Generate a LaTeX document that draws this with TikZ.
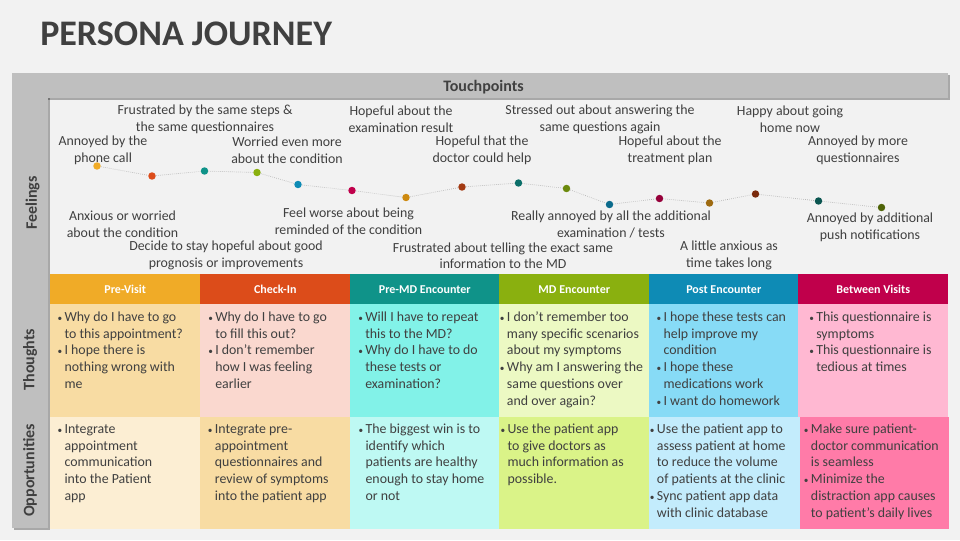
\documentclass[tikz,border=0pt]{standalone}
\usepackage{fontspec}
\setmainfont{Carlito}
\usetikzlibrary{positioning, shadows}
\definecolor{pagebg}{HTML}{F2F2F2}
\definecolor{bandgray}{HTML}{BFBFBF}
\definecolor{inktext}{HTML}{404040}
\newcommand{\cellitem}[1]{\par\begingroup\def\\{\break}\hangindent=5.25pt\hangafter=1\noindent\makebox[5.25pt][l]{\scriptsize\textbullet}#1\par\endgroup}
\newcommand{\bodyfont}{\fontsize{10.4}{12.6}\selectfont}
\newcommand{\standardpx}{0.75pt}

\tikzset{
    band/.style={fill=bandgray, draw=none, drop shadow={shadow xshift=1.2pt, shadow yshift=-1.2pt, opacity=0.3, fill=black}},
    bandlabel/.style={text=inktext, font=\bfseries\fontsize{12}{14}\selectfont, inner sep=0pt},
    feeling/.style={text=inktext, font=\bodyfont, align=center, inner sep=0pt},
    dot/.style={circle, fill=#1, minimum size=5.6pt, inner sep=0pt},
    header/.style={fill=#1, text=white, font=\bfseries\fontsize{9}{11}\selectfont, minimum height=30*\standardpx, inner sep=0pt, anchor=north west},
    cellbox/.style={fill=#1, inner sep=0pt, anchor=north west},
    celltext/.style={text=inktext, font=\bodyfont, align=flush left, text width=155*\standardpx, inner sep=0pt, anchor=north west},
    chain/.style={densely dotted, line width=0.5pt, draw=gray!60}
}

\begin{document}
\begin{tikzpicture}[x=0.75pt, y=-0.75pt]
    \useasboundingbox (0,0) rectangle (960,540);
    \fill[pagebg] (0,0) rectangle (960,540);

    \node[text=inktext, font=\bfseries\fontsize{27}{32}\selectfont, inner sep=0pt, anchor=west] (title) at (40,34) {PERSONA JOURNEY};

    % grey bands
    \node[band, minimum width=36*\standardpx, minimum height=455*\standardpx, inner sep=0pt, anchor=north west] (leftband) at (12,73) {};
    \node[band, minimum width=936*\standardpx, minimum height=25*\standardpx, inner sep=0pt, anchor=north west] (topband) at (12,73) {};
    \fill[bandgray] (14,80) rectangle (48,100);
    \node[bandlabel] (touchpoints) at (483.5,87) {Touchpoints};
    \node[bandlabel, rotate=90] (feelings) at (32.5,203) {Feelings};
    \node[bandlabel, rotate=90] (thoughts) at (30,359.5) {Thoughts};
    \node[bandlabel, rotate=90] (opportunities) at (30,470.5) {Opportunities};

    % feelings above the line
    \node[feeling] (annoyed) at (103,150.2) {Annoyed by the\\phone call};
    \node[feeling] (frustrated) at (205,119.2) {Frustrated by the same steps \&\\the same questionnaires};
    \node[feeling] (worried) at (287,150.2) {Worried even more\\about the condition};
    \node[feeling] (hopefulexam) at (401,119.2) {Hopeful about the\\examination result};
    \node[feeling] (hopefuldoctor) at (482,150.2) {Hopeful that the\\doctor could help};
    \node[feeling] (stressed) at (600,119.2) {Stressed out about answering the\\same questions again};
    \node[feeling] (hopefulplan) at (670,150.2) {Hopeful about the\\treatment plan};
    \node[feeling] (happy) at (790,119.2) {Happy about going\\home now};
    \node[feeling] (annoyedmore) at (858,150.2) {Annoyed by more\\questionnaires};

    % feelings below the line
    \node[feeling] (anxious) at (122.5,224.5) {Anxious or worried\\about the condition};
    \node[feeling] (decide) at (226,255.7) {Decide to stay hopeful about good\\prognosis or improvements};
    \node[feeling] (worse) at (348.5,221.5) {Feel worse about being\\reminded of the condition};
    \node[feeling] (telling) at (503,255.7) {Frustrated about telling the exact same\\information to the MD};
    \node[feeling] (really) at (611,224.5) {Really annoyed by all the additional\\examination / tests};
    \node[feeling] (little) at (729,255.7) {A little anxious as\\time takes long};
    \node[feeling] (push) at (870,226.9) {Annoyed by additional\\push notifications};

    % feeling line
    \foreach \i/\x/\y/\colr in {1/97/166/F0AB27, 2/152/176/DC4C1A, 3/204.5/171/0F9389, 4/257/172.5/8AB00F,
        5/298/184.5/0E8BB5, 6/352/190.5/C0004B, 7/406/197.5/CE8A10, 8/462/187/A33A12,
        9/518.5/183/0B6F69, 10/566.5/188.5/6C8A0C, 11/609.5/204.5/0B6B8C, 12/659.5/198.5/96003A,
        13/709.5/203/9E6A10, 14/755.5/194/7A2A0C, 15/818.5/201/0A5550, 16/881.5/207.5/4F6408} {
        \definecolor{dotcolor}{HTML}{\colr}
        \node[dot=dotcolor] (p\i) at (\x,\y) {};
    }
    \foreach \i [remember=\i as \j (initially 1)] in {2,...,16} {
        \draw[chain] (p\j) -- (p\i);
    }

    % headers
    \foreach \name/\x/\colw/\colr/\headtext in {previsit/50/150/F0AB27/Pre-Visit, checkin/200/150/DC4C1A/Check-In,
        premd/350/149/0F9389/Pre-MD Encounter, md/499/150/8AB00F/MD Encounter,
        post/649/149/0E8BB5/Post Encounter, between/798/150/C0004B/Between Visits} {
        \definecolor{headcolor}{HTML}{\colr}
        \node[header=headcolor, minimum width=\colw*\standardpx] (\name) at (\x,274) {\headtext};
    }

    % thoughts row
    \foreach \name/\x/\colw/\colr in {tone/50/150/F8DCA3, ttwo/200/150/FAD8CF, tthree/350/149/82F2E8,
        tfour/499/150/ECF9C3, tfive/649/149/87DBF6, tsix/798/150/FFB8D2} {
        \definecolor{cellcolor}{HTML}{\colr}
        \node[cellbox=cellcolor, minimum width=\colw*\standardpx, minimum height=113*\standardpx] (\name) at (\x,304) {};
    }
    % opportunities row
    \foreach \name/\x/\colw/\colr in {oone/50/150/FCEED3, otwo/200/150/F8DCA3, othree/350/149/BEF9F3,
        ofour/499/150/DAF388, ofive/649/151/C3ECFC, osix/800/149/FF7BA8} {
        \definecolor{cellcolor}{HTML}{\colr}
        \node[cellbox=cellcolor, minimum width=\colw*\standardpx, minimum height=112*\standardpx] (\name) at (\x,416.5) {};
    }

    \node[celltext] (tonetext) at (57.3,304.2) {\cellitem{Why do I have to go\\to this appointment?}\cellitem{I hope there is\\nothing wrong with\\me}};
    \node[celltext] (ttwotext) at (208,304.2) {\cellitem{Why do I have to go\\to fill this out?}\cellitem{I don’t remember\\how I was feeling\\earlier}};
    \node[celltext] (tthreetext) at (358,304.2) {\cellitem{Will I have to repeat\\this to the MD?}\cellitem{Why do I have to do\\these tests or\\examination?}};
    \node[celltext] (tfourtext) at (499.7,304.2) {\cellitem{I don’t remember too\\many specific scenarios\\about my symptoms}\cellitem{Why am I answering the\\same questions over\\and over again?}};
    \node[celltext] (tfivetext) at (656.3,304.2) {\cellitem{I hope these tests can\\help improve my\\condition}\cellitem{I hope these\\medications work}\cellitem{I want do homework}};
    \node[celltext] (tsixtext) at (809,304.2) {\cellitem{This questionnaire is\\symptoms}\cellitem{This questionnaire is\\tedious at times}};

    \node[celltext] (oonetext) at (57.3,416.2) {\cellitem{Integrate\\appointment\\communication\\into the Patient\\app}};
    \node[celltext] (otwotext) at (207.7,416.2) {\cellitem{Integrate pre-\\appointment\\questionnaires and\\review of symptoms\\into the patient app}};
    \node[celltext] (othreetext) at (358.3,416.2) {\cellitem{The biggest win is to\\identify which\\patients are healthy\\enough to stay home\\or not}};
    \node[celltext] (ofourtext) at (500.3,416.2) {\cellitem{Use the patient app\\to give doctors as\\much information as\\possible.}};
    \node[celltext] (ofivetext) at (649.7,416.2) {\cellitem{Use the patient app to\\assess patient at home\\to reduce the volume\\of patients at the clinic}\cellitem{Sync patient app data\\with clinic database}};
    \node[celltext] (osixtext) at (803.7,416.2) {\cellitem{Make sure patient-\\doctor communication\\is seamless}\cellitem{Minimize the\\distraction app causes\\to patient’s daily lives}};
\end{tikzpicture}
\end{document}
